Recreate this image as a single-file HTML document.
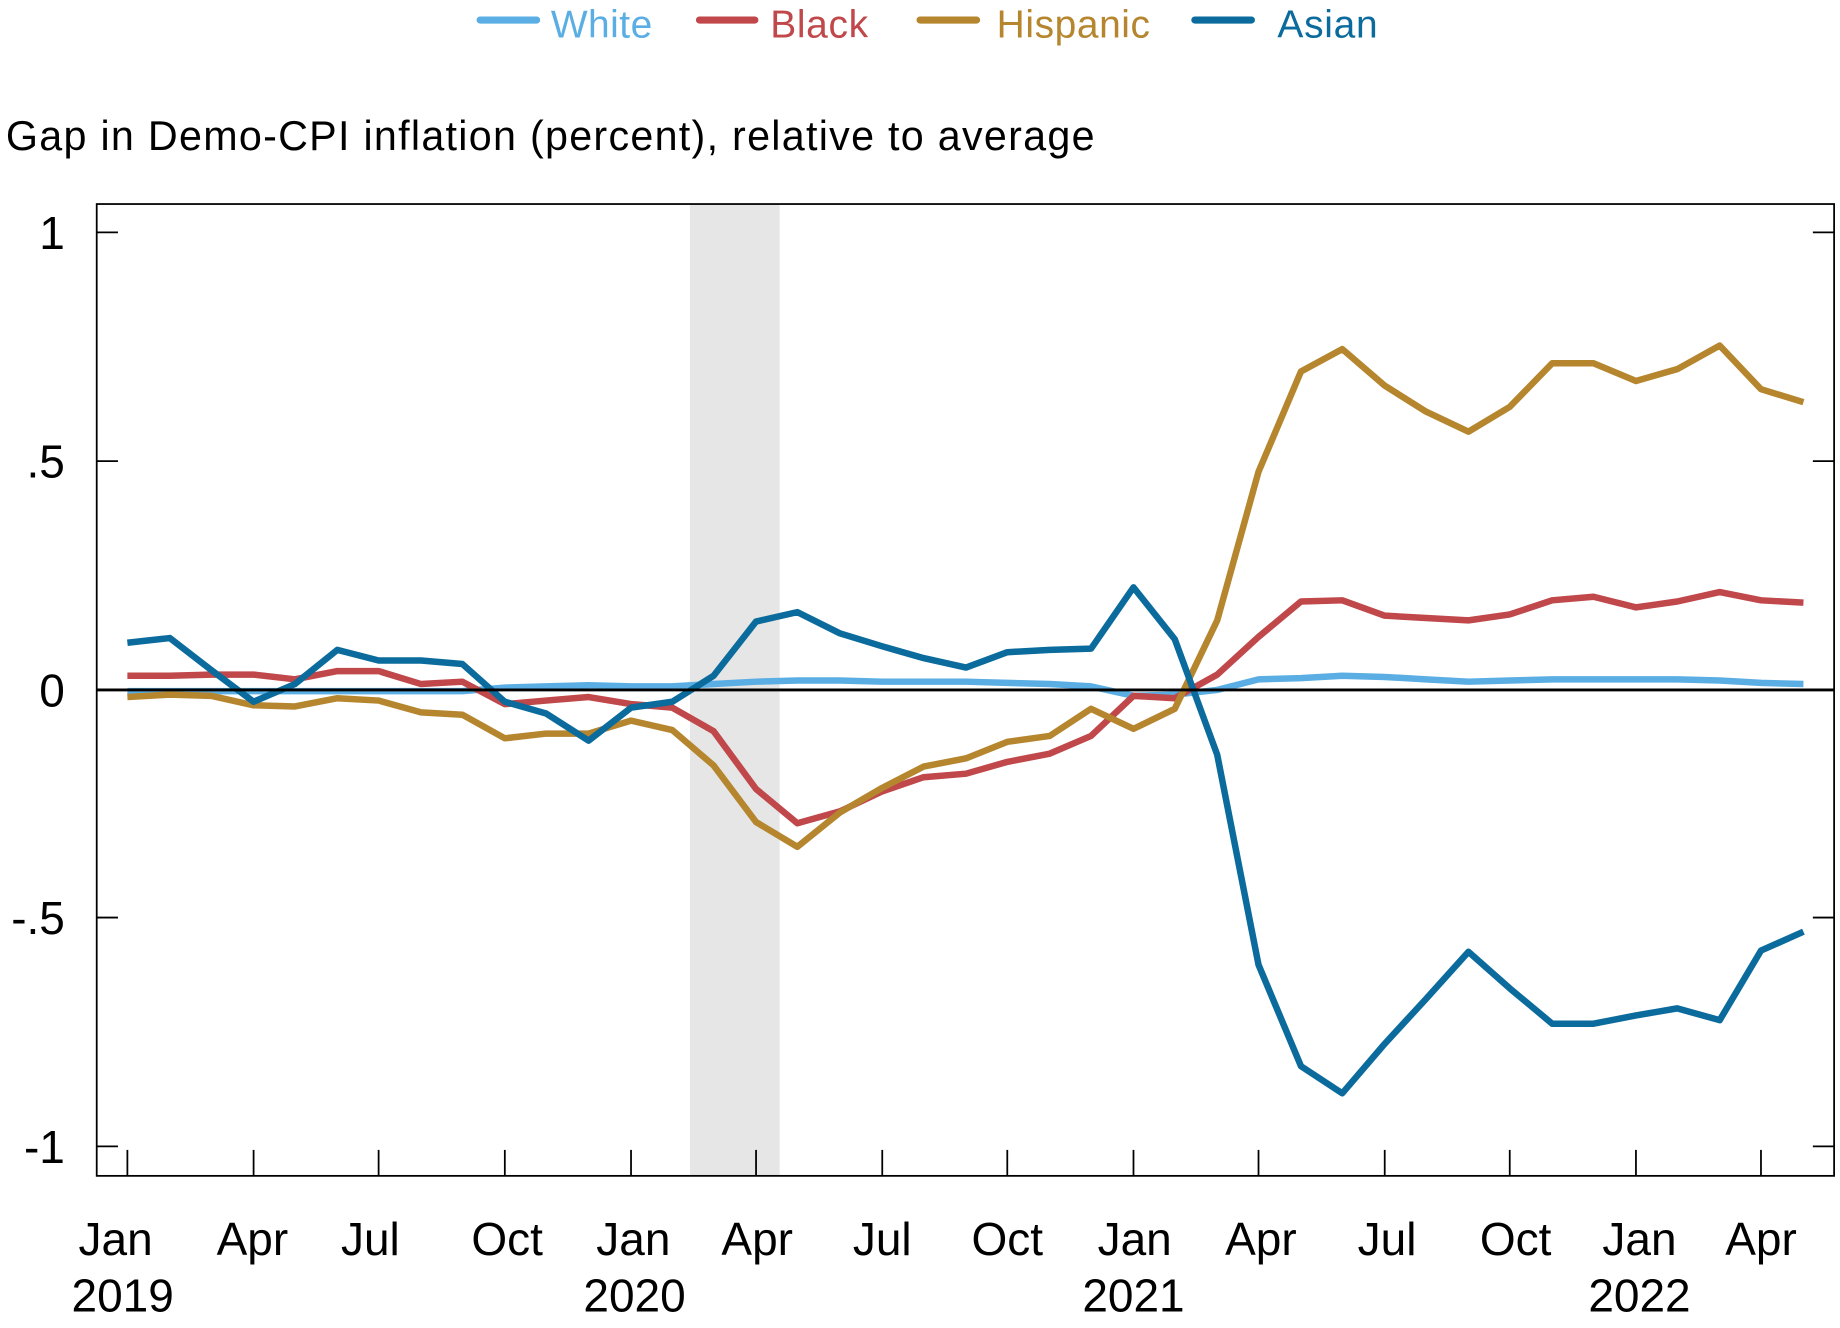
<!DOCTYPE html>
<html><head><meta charset="utf-8"><style>
html,body{margin:0;padding:0;background:#fff;}
svg{display:block;}
text{font-family:"Liberation Sans",Arial,sans-serif;}
</style></head><body>
<svg width="1840" height="1328" viewBox="0 0 1560 1126" preserveAspectRatio="none" xmlns="http://www.w3.org/2000/svg">
<rect x="0" y="0" width="1560" height="1126" fill="#fff"/>
<!-- legend -->
<g font-size="33" stroke-width="6" stroke-linecap="round">
<line x1="407" y1="17" x2="455" y2="17" stroke="#5aaee3"/><text x="467" y="32" fill="#5aaee3" stroke="none" textLength="86">White</text>
<line x1="593" y1="17" x2="640" y2="17" stroke="#c0474a"/><text x="653" y="32" fill="#c0474a" stroke="none" textLength="83">Black</text>
<line x1="780" y1="17" x2="828" y2="17" stroke="#b5862e"/><text x="845" y="32" fill="#b5862e" stroke="none" textLength="130">Hispanic</text>
<line x1="1013" y1="17" x2="1061" y2="17" stroke="#0a6b9c"/><text x="1083" y="32" fill="#0a6b9c" stroke="none" textLength="85">Asian</text>
</g>
<text x="5" y="127" font-size="35" fill="#000" textLength="923">Gap in Demo-CPI inflation (percent), relative to average</text>
<!-- shade -->
<rect x="585" y="173" width="76" height="824" fill="#e6e6e6"/>
<!-- ticks -->
<g stroke="#000" stroke-width="1.5">
<line x1="82" y1="197" x2="100" y2="197"/><line x1="82" y1="391" x2="100" y2="391"/><line x1="82" y1="778" x2="100" y2="778"/><line x1="82" y1="972" x2="100" y2="972"/>
<line x1="1537" y1="197" x2="1555" y2="197"/><line x1="1537" y1="391" x2="1555" y2="391"/><line x1="1537" y1="778" x2="1555" y2="778"/><line x1="1537" y1="972" x2="1555" y2="972"/>
<line x1="108" y1="975" x2="108" y2="997"/><line x1="215" y1="975" x2="215" y2="997"/><line x1="321" y1="975" x2="321" y2="997"/><line x1="428" y1="975" x2="428" y2="997"/><line x1="535" y1="975" x2="535" y2="997"/><line x1="641" y1="975" x2="641" y2="997"/><line x1="748" y1="975" x2="748" y2="997"/><line x1="854" y1="975" x2="854" y2="997"/><line x1="961" y1="975" x2="961" y2="997"/><line x1="1067" y1="975" x2="1067" y2="997"/><line x1="1174" y1="975" x2="1174" y2="997"/><line x1="1280" y1="975" x2="1280" y2="997"/><line x1="1387" y1="975" x2="1387" y2="997"/><line x1="1493" y1="975" x2="1493" y2="997"/>
</g>
<g font-size="39" fill="#000" text-anchor="end">
<text x="55" y="211">1</text><text x="55" y="405">.5</text><text x="55" y="599">0</text><text x="55" y="792">-.5</text><text x="55" y="986">-1</text>
</g>
<g font-size="39" fill="#000" text-anchor="middle">
<text x="98" y="1064">Jan</text><text x="214" y="1064">Apr</text><text x="314" y="1064">Jul</text><text x="430" y="1064">Oct</text><text x="537" y="1064">Jan</text><text x="642" y="1064">Apr</text><text x="748" y="1064">Jul</text><text x="854" y="1064">Oct</text><text x="962" y="1064">Jan</text><text x="1069" y="1064">Apr</text><text x="1176" y="1064">Jul</text><text x="1285" y="1064">Oct</text><text x="1390" y="1064">Jan</text><text x="1493" y="1064">Apr</text>
<text x="104" y="1112">2019</text><text x="538" y="1112">2020</text><text x="961" y="1112">2021</text><text x="1390" y="1112">2022</text>
</g>
<!-- series -->
<g fill="none" stroke-width="5.5" stroke-linejoin="round">
<polyline stroke="#5aaee3" points="108,586 144,586 179,586 215,586 250,586 286,586 321,586 357,586 392,586 428,583 463,582 499,581 535,582 570,582 605,580 641,578 676,577 712,577 748,578 783,578 819,578 854,579 890,580 925,582 961,590 996,589 1032,585 1067,576 1103,575 1138,573 1174,574 1209,576 1245,578 1280,577 1316,576 1351,576 1387,576 1422,576 1458,577 1493,579 1529,580"/>
<polyline stroke="#c0474a" points="108,573 144,573 179,572 215,572 250,576 286,569 321,569 357,580 392,578 428,597 463,594 499,591 535,597 570,600 605,620 641,669 676,698 712,688 748,671 783,659 819,656 854,646 890,639 925,624 961,590 996,592 1032,572 1067,540 1103,510 1138,509 1174,522 1209,524 1245,526 1280,521 1316,509 1351,506 1387,515 1422,510 1458,502 1493,509 1529,511"/>
<polyline stroke="#b5862e" points="108,591 144,589 179,590 215,598 250,599 286,592 321,594 357,604 392,606 428,626 463,622 499,622 535,611 570,619 605,649 641,697 676,718 712,689 748,668 783,650 819,643 854,629 890,624 925,601 961,618 996,601 1032,526 1067,400 1103,315 1138,296 1174,327 1209,349 1245,366 1280,345 1316,308 1351,308 1387,323 1422,313 1458,293 1493,330 1529,341"/>
<polyline stroke="#0a6b9c" points="108,545 144,541 179,568 215,595 250,580 286,551 321,560 357,560 392,563 428,595 463,605 499,628 535,600 570,595 605,573 641,527 676,519 712,537 748,548 783,558 819,566 854,553 890,551 925,550 961,498 996,542 1032,640 1067,818 1103,904 1138,927 1174,885 1209,847 1245,807 1280,838 1316,868 1351,868 1387,861 1422,855 1458,865 1493,806 1529,790"/>
</g>
<line x1="82" y1="585" x2="1555" y2="585" stroke="#000" stroke-width="2.5"/>
<rect x="82" y="173" width="1473" height="824" fill="none" stroke="#000" stroke-width="1.5"/>
</svg>
</body></html>
